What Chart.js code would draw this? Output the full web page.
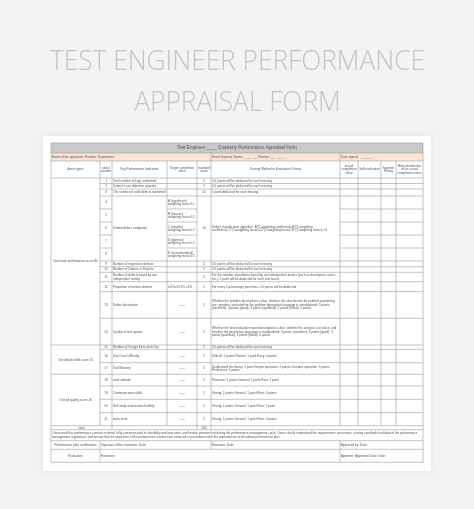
<!DOCTYPE html>
<html lang="en">
<head>
<meta charset="UTF-8">
<title>Test Engineer Performance Appraisal Form</title>
<script src="https://cdn.jsdelivr.net/npm/chart.js@4.4.1"></script>
<style>
html,body{margin:0;padding:0;background:#f3f3f3}
.wrap{position:relative;width:474px;height:509px}
</style>
</head>
<body>
<div class="wrap"><canvas id="c"></canvas></div>
<script>
// layout grid in picture units (x 0..474, y 0..509)
const colEdges=[51,100,112,167,197,211,340,358,381,396,423];
const colHeads=['Asset types','serial number','Key Performance Indicators','Target completion value','standard score','Scoring Method or Evaluation Criteria','actual completion value','Self evaluation','Superior Rating','Brief introduction of the actual completion status'];
const rowEdges=[178,183.5,189,196,209,222,235,248,261,266.7,272.3,281.7,291.7,318.3,345,349.3,362.7,374.3,386,399.3,412.7,425.7];
const serials=['1','2','3','4','5','6','7','8','9','10','11','12','13','14','15','16','17','18','19','20','21'];
const indicators=['Total number of bugs submitted','Submit a use defective quantity','The number of valid defects submitted','','','','','','Number of regression defects','Number of Defects in Dispute','Number of defects found by non independent testing','Proportion of serious defects','Defect description','Quality of test reports','Number of Design Execution Use','Use Case Difficulty','Tool Mastery','work attitude','Communication skills','Self study and research ability','team work'];
const targets=['','','','A (significant) weighting factor 0.1','B (heavier) weighting factor 0.2','C (smaller) weighting factor 0.2','D (general) weighting factor 0.2','E (recommended) weighting factor 0.3','','','','0.6%≤X<1% ≤1%','——','——','','——','——','——','——','——','——'];
const scores=['5','5','10','','','','','','5','5','5','5','5','5','5','2','5','5','5','5','5'];
const criteria=['0.5 points will be deducted for each missing','0.5 points will be deducted for each missing','1 point deducted for each missing','','','','','','0.5 points will be deducted for each missing','0.5 points will be deducted for each missing','For the number of problems found by non independent testers (such as developers, users, etc.), 1 point will be deducted for each one found','For every 1 percentage point loss, 0.5 points will be deducted','Whether the problem description is clear, whether the attachments for problem positioning are complete, and whether the problem description language is standardized: 5 points (excellent), 4 points (good), 3 points (qualified), 2 points (failed), 0 points','Whether the test evaluation report description is clear, whether the analysis is in place, and whether the description language is standardized: 5 points (excellent), 4 points (good), 3 points (qualified), 2 points (failed), 0 points','0.5 points will be deducted for each missing','Difficult: 2 points Normal: 1 point Easy: 0 points','Understand the theory: 1 point Simple operation: 2 points Complex operation: 3 points Proficiency: 5 points','Proactive: 2 points General: 1 point Poor: 1 point','Strong: 2 points General: 1 point Poor: 0 points','Strong: 2 points General: 1 point Poor: 1 point','Strong: 2 points General: 1 point Poor: 0 points'];
const mergedIndicator='Submit defect categories';
const mergedScore='10';
const mergedCriteria='Defect classification algorithm: A*(1-weighting coefficient)+B*(1-weighting coefficient)+C*(1-weighting factor)+D*(1-weighting factor)+E*(1-weighting factor) ≥ 8';
const groups=['Total work performance score 80','Overall job skills score 16','Overall quality score 16'];
const groupRows=[[0,14],[14,17],[17,21]];
const totalScore='100';
const note='I have read this performance contract in detail, fully communicated its feasibility and execution, and hereby promise that during the performance management cycle, I have clearly understood the requirements, processes, scoring standards and data of the performance management regulations, and ensure that the objectives of the performance contract are achieved in accordance with the requirements of the above performance plan.';

const ink='#555',line='#9a9a9a',small='3.1px "Liberation Sans"';

function wrap(ctx,text,maxW){
  const words=text.split(' '),out=[];let cur='';
  words.forEach(w=>{const t=cur?cur+' '+w:w;if(ctx.measureText(t).width>maxW&&cur){out.push(cur);cur=w}else cur=t});
  if(cur)out.push(cur);return out;
}

const formPlugin={id:'form',afterDraw(chart){
  const ctx=chart.ctx,X=v=>chart.scales.x.getPixelForValue(v),Y=v=>chart.scales.y.getPixelForValue(v);
  const L=colEdges[0],R=colEdges[colEdges.length-1];
  function rect(x0,y0,x1,y1,fill){ctx.fillStyle=fill;ctx.fillRect(X(x0),Y(y0),X(x1)-X(x0),Y(y1)-Y(y0))}
  function hl(x0,x1,y){ctx.beginPath();ctx.moveTo(X(x0),Y(y));ctx.lineTo(X(x1),Y(y));ctx.stroke()}
  function vl(x,y0,y1){ctx.beginPath();ctx.moveTo(X(x),Y(y0));ctx.lineTo(X(x),Y(y1));ctx.stroke()}
  function txt(s,x0,x1,y0,y1,align,font){
    ctx.font=font||small;ctx.fillStyle=ink;ctx.textBaseline='middle';
    const lines=wrap(ctx,s,X(x1)-X(x0)-2),lh=3.6,top=(Y(y0)+Y(y1))/2-(lines.length-1)*lh/2;
    ctx.textAlign=align||'center';
    const px=align==='left'?X(x0)+1:(X(x0)+X(x1))/2;
    lines.forEach((l,i)=>ctx.fillText(l,px,top+i*lh));
  }
  ctx.save();
  // card
  ctx.fillStyle='#fff';ctx.shadowColor='rgba(0,0,0,0.08)';ctx.shadowBlur=6;
  ctx.fillRect(X(43),Y(136),X(431)-X(43),Y(471)-Y(136));ctx.shadowBlur=0;
  // title
  ctx.fillStyle='#c4c4c4';ctx.textAlign='center';ctx.textBaseline='middle';
  ctx.font='300 27px "Open Sans"';
  const t1='TEST ENGINEER PERFORMANCE',w1=ctx.measureText(t1).width,sx=(X(425)-X(50))/w1;
  ctx.save();ctx.translate(X(237.5),Y(62));ctx.scale(sx,1);ctx.fillText(t1,0,0);ctx.restore();
  ctx.save();ctx.translate(X(237.5),Y(103));ctx.scale(sx,1);ctx.fillText('APPRAISAL FORM',0,0);ctx.restore();
  // header bands
  rect(L,143,R,153,'#c9c9c9');rect(L,153,R,161,'#fbe4d5');
  txt('Test Engineer ____ Quarterly Performance Appraisal Form',L,R,143,153,'center','4.6px "Liberation Sans"');
  txt('Name of the appraisee: Position: Department:',L,211,153,161,'left');
  txt('Direct Superior Name: ________ Position: ________',211,340,153,161,'left');
  txt('Date signed: ________',340,R,153,161,'left');
  ctx.strokeStyle=line;ctx.lineWidth=0.6;
  [143,153,161,178].forEach(y=>hl(L,R,y));
  colHeads.forEach((h,i)=>txt(h,colEdges[i],colEdges[i+1],161,178));
  // body rows
  for(let i=0;i<serials.length;i++){
    const y0=rowEdges[i],y1=rowEdges[i+1],inMerge=i>=3&&i<=7;
    hl(colEdges[1],colEdges[2],y1);
    if(!inMerge||i===7){hl(colEdges[2],colEdges[3],y1);hl(colEdges[4],colEdges[6],y1)}
    hl(colEdges[3],colEdges[4],y1);hl(colEdges[6],R,y1);
    txt(serials[i],colEdges[1],colEdges[2],y0,y1);
    if(indicators[i])txt(indicators[i],colEdges[2],colEdges[3],y0,y1,'left');
    if(targets[i])txt(targets[i],colEdges[3],colEdges[4],y0,y1,targets[i]==='——'?'center':'left');
    if(scores[i])txt(scores[i],colEdges[4],colEdges[5],y0,y1);
    if(criteria[i])txt(criteria[i],colEdges[5],colEdges[6],y0,y1,'left');
  }
  const m0=rowEdges[3],m1=rowEdges[8];
  txt(mergedIndicator,colEdges[2],colEdges[3],m0,m1,'left');
  txt(mergedScore,colEdges[4],colEdges[5],m0,m1);
  txt(mergedCriteria,colEdges[5],colEdges[6],m0,m1,'left');
  groups.forEach((g,i)=>{const a=rowEdges[groupRows[i][0]],b=rowEdges[groupRows[i][1]];hl(L,colEdges[1],b);txt(g,L,colEdges[1],a,b)});
  const B=rowEdges[rowEdges.length-1];
  colEdges.forEach(x=>vl(x,161,B));
  // total row
  hl(L,R,429.7);txt('total',L,colEdges[2],B,429.7);txt(totalScore,colEdges[4],colEdges[5],B,429.7);
  vl(L,B,462.3);vl(R,B,462.3);vl(colEdges[2],B,429.7);vl(colEdges[4],B,429.7);vl(colEdges[5],B,429.7);
  txt(note,L,R,429.7,440.7,'left');hl(L,R,440.7);
  // signature rows
  txt('Performance plan confirmation',L,colEdges[1],440.7,449.3);
  txt('Signature of the examinee: Date:',colEdges[1],colEdges[5],440.7,449.3,'left');
  txt('Examiner: Date:',colEdges[5],colEdges[6],440.7,449.3,'left');
  txt('Approved by: Date:',colEdges[6],R,440.7,449.3,'left');
  hl(L,R,449.3);
  txt('Evaluation',L,colEdges[1],449.3,462.3);
  txt('Examinee:',colEdges[1],colEdges[6],449.3,462.3,'left');
  txt('Approver: Approved: Date: Date:',colEdges[6],R,449.3,462.3,'left');
  hl(L,R,462.3);
  [colEdges[1],colEdges[6]].forEach(x=>vl(x,440.7,462.3));vl(colEdges[5],440.7,449.3);
  vl(L,143,161);vl(R,143,161);vl(colEdges[5],153,161);vl(colEdges[6],153,161);
  ctx.restore();
}};

new Chart(document.getElementById('c'),{type:'scatter',
  data:{datasets:[{data:[],pointRadius:0}]},
  options:{responsive:true,maintainAspectRatio:false,animation:false,
    layout:{padding:0},
    plugins:{legend:{display:false},tooltip:{enabled:false}},
    scales:{x:{type:'linear',min:0,max:474,display:false},
            y:{type:'linear',min:0,max:509,reverse:true,display:false}}},
  plugins:[formPlugin]});
</script>
</body>
</html>
